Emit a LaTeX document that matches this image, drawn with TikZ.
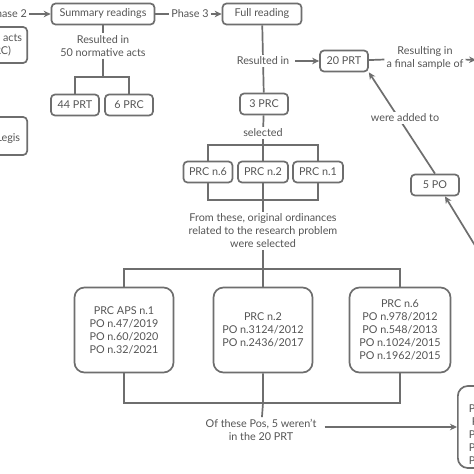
\documentclass[tikz,border=0pt]{standalone}
\usepackage{fontspec}
\setmainfont{Lato}
\usetikzlibrary{arrows.meta,positioning,calc}
\definecolor{wire}{HTML}{6E6E6E}
\definecolor{ink}{HTML}{555555}
\tikzset{
  box/.style={draw=wire,fill=white,rounded corners=4pt,line width=1.7pt,
    inner xsep=8pt,minimum height=21pt,text=ink,align=center},
  smallbox/.style={box,minimum width=48pt,inner xsep=3pt},
  bigbox/.style={box,rounded corners=10pt,minimum width=99pt,minimum height=85pt},
  lbl/.style={text=ink,align=center,fill=white,inner sep=2pt},
  conn/.style={draw=wire,line width=1.7pt},
  arrow/.style={conn,-{Stealth[length=7pt,width=6.5pt]}}
}

\begin{document}
\begin{tikzpicture}[x=1pt,y=-1pt,font=\fontsize{10.8}{13}\selectfont]
  \useasboundingbox[fill=white] (0,0) rectangle (474,474);
  \clip (0,0) rectangle (474,474);

  % phases 2 and 3
  \node[lbl,anchor=east] (ph2) at (29,14) {Phase 2};
  \node[box] (summ) at (103,14) {Summary readings};
  \node[lbl] (ph3) at (190,14) {Phase 3};
  \node[box,minimum width=79pt] (full) at (262,14) {Full reading};
  \draw[arrow] (ph2) -- (summ);
  \draw[conn] (summ) -- (ph3);
  \draw[arrow] (ph3) -- (full);

  % left, cut by the frame
  \node[box,anchor=east,minimum height=36pt,inner xsep=5pt] (acts) at (28,45) {Normative acts\\(PRT/PRC)};
  \node[box,anchor=east,text width=60pt,align=right,minimum height=38pt,inner xsep=7pt] (legis) at (28,136) {\mbox{}\\Legis};

  % summary readings branch
  \node[lbl] (res50) at (103,46) {Resulted in\\50 normative acts};
  \node[smallbox] (prt44) at (75,105) {44 PRT};
  \node[smallbox] (prc6s) at (129,105) {6 PRC};
  \coordinate (barA) at (103,77);
  \draw[conn] (summ) -- (res50);
  \draw[conn] (res50) -- (barA);
  \draw[conn] (prt44) |- (barA) -| (prc6s);

  % full reading branch
  \node[smallbox] (prc3) at (264,104) {3 PRC};
  \node[smallbox] (prt20) at (344,61) {20 PRT};
  \draw[conn] (full) -- (prc3);
  \node[lbl] (resin) at (263,61) {Resulted in};
  \draw[arrow] ([xshift=4pt]resin.east) -- (prt20);
  \node[lbl] (final) at (425,58) {Resulting in\\a final sample of};
  \coordinate (sample) at (476,60);
  \draw[conn] (prt20) -- (final);
  \draw[arrow] (final) -- (sample);

  % 5 PO added
  \node[smallbox] (po5) at (435,185) {5 PO};
  \coordinate (fromrest) at (490,270);
  \draw[arrow] (po5.north) -- (prt20.south east);
  \node[lbl] (added) at (405,118) {were added to};
  \draw[arrow] (fromrest) -- ([xshift=10pt]po5.south);

  % the three PRC
  \node[lbl] (sel) at (263,133) {selected};
  \node[box,minimum width=49pt,inner xsep=3pt] (pn6) at (208,172) {PRC n.6};
  \node[box,minimum width=50pt,inner xsep=3pt] (pn2) at (263,172) {PRC n.2};
  \node[box,minimum width=50pt,inner xsep=3pt] (pn1) at (318,172) {PRC n.1};
  \coordinate (barB) at (263,145);
  \coordinate (barC) at (263,200);
  \draw[conn] (prc3) -- (sel);
  \draw[conn] (sel) -- (barB);
  \draw[conn] (pn6) |- (barB) -| (pn1);
  \draw[conn] (pn2) -- (barB);
  \node[lbl] (orig) at (263,231) {From these, original ordinances\\related to the research problem\\were selected};
  \draw[conn] (pn6) |- (barC) -| (pn1);
  \draw[conn] (pn2) -- (barC) -- (orig);

  % ordinances
  \node[bigbox] (ordA) at (124,330) {PRC APS n.1\\PO n.47/2019\\PO n.60/2020\\PO n.32/2021};
  \node[bigbox] (ordB) at (263,330) {PRC n.2\\PO n.3124/2012\\PO n.2436/2017};
  \node[bigbox,minimum width=101pt] (ordC) at (400,330) {PRC n.6\\PO n.978/2012\\PO n.548/2013\\PO n.1024/2015\\PO n.1962/2015};
  \coordinate (barD) at (263,269);
  \coordinate (barE) at (263,403);
  \draw[conn] (orig) -- (barD);
  \draw[conn] (ordA) |- (barD) -| (ordC);
  \draw[conn] (ordB) -- (barD);
  \draw[conn] (ordA) |- (barE) -| (ordC);
  \node[lbl] (notin) at (261,430) {Of these Pos, 5 weren't\\in the 20 PRT};
  \draw[conn] (ordB) -- (barE) -- (notin);

  % the five left out
  \node[box,rounded corners=10pt,anchor=west,minimum height=82pt,inner xsep=11pt,inner ysep=0pt] (rest) at (457,427) {\rule{0pt}{24pt}PO n.1024/2015\\PO n.978/2012\\PO n.1962/2015\\PO n.3124/2012\\PO n.2436/2017};
  \draw[arrow] ([xshift=6pt]notin.east |- rest.west) -- (rest.west);
\end{tikzpicture}
\end{document}
